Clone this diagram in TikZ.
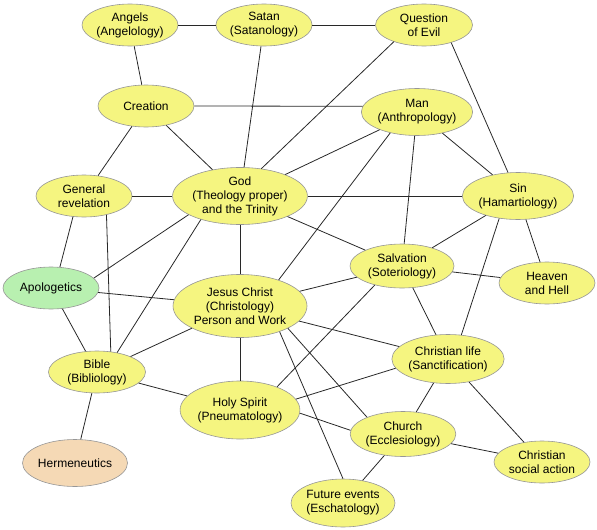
\documentclass[tikz,border=0pt]{standalone}
\usepackage{fontspec}
\setmainfont{Liberation Sans}
\usetikzlibrary{shapes.geometric}
\definecolor{nodey}{RGB}{245,245,128}
\definecolor{nodeg}{RGB}{184,240,176}
\definecolor{nodep}{RGB}{245,217,181}
\definecolor{edgec}{RGB}{40,40,40}
\definecolor{bord}{RGB}{150,150,150}
\tikzset{
  topic/.style={ellipse, draw=bord, line width=0.6pt, fill=nodey, inner sep=0pt,
    align=center, font=\fontsize{12}{14}\selectfont},
  sm/.style={minimum width=96pt, minimum height=42pt},
  md/.style={minimum width=104pt, minimum height=47pt},
  lg/.style={minimum width=118pt, minimum height=58pt},
  link/.style={draw=edgec, line width=0.8pt}
}
\begin{document}
\begin{tikzpicture}[x=1pt,y=-1pt]
\useasboundingbox (0,0) rectangle (597,530);
\node[topic,sm] (angels) at (130,25) {Angels\\(Angelology)};
\node[topic,sm] (satan) at (264,25) {Satan\\(Satanology)};
\node[topic,sm,minimum width=97pt] (evil) at (424,25) {Question\\of Evil};
\node[topic,sm] (creation) at (146,106) {Creation};
\node[topic,md] (man) at (417,112) {Man\\(Anthropology)};
\node[topic,sm] (genrev) at (84,196) {General\\revelation};
\node[topic,lg,minimum height=57pt] (god) at (240,196) {God\\(Theology proper)\\and the Trinity};
\node[topic,md] (sin) at (518,196) {Sin\\(Hamartiology)};
\node[topic,sm,fill=nodeg] (apol) at (51,288) {Apologetics};
\node[topic,minimum width=134pt,minimum height=63pt] (jesus) at (240,306) {Jesus Christ\\(Christology)\\Person and Work};
\node[topic,md,minimum height=44pt] (salv) at (402,266) {Salvation\\(Soteriology)};
\node[topic,sm] (heaven) at (547,283) {Heaven\\and Hell};
\node[topic,sm,minimum width=97pt] (bible) at (97,372) {Bible\\(Bibliology)};
\node[topic,lg] (spirit) at (240,410) {Holy Spirit\\(Pneumatology)};
\node[topic,md,minimum height=49pt] (life) at (448,359) {Christian life\\(Sanctification)};
\node[topic,md,minimum width=105pt,fill=nodep] (herm) at (75,463) {Hermeneutics};
\node[topic,md,minimum width=103pt,minimum height=45pt] (church) at (403,434) {Church\\(Ecclesiology)};
\node[topic,sm] (social) at (542,462) {Christian\\social action};
\node[topic,md,minimum height=48pt] (future) at (343,503) {Future events\\(Eschatology)};
\begin{scope}[on background layer/.style={}]
\foreach \a/\b in {angels/satan, satan/evil, angels/creation, satan/god,
  creation/genrev, creation/god, man/god, man/salv, man/sin,
  genrev/god, god/sin, god/salv, god/jesus,
  sin/salv, sin/heaven, salv/heaven, salv/jesus, salv/life,
  apol/jesus, apol/bible, jesus/bible, jesus/spirit, jesus/life,
  bible/herm, bible/spirit, life/church, life/social,
  church/future, church/social}
  \draw[link] (\a) -- (\b);
\draw[link] (creation.east) -- (man.174);
\draw[link] (evil.209) -- (god.52);
\draw[link] (evil.-33) -- (sin.113);
\draw[link] (man.218) -- (jesus.34);
\draw[link] (genrev.-40) -- (bible.56);
\draw[link] (genrev.-118) -- (apol.67);
\draw[link] (god.200) -- (apol.13);
\draw[link] (god.211) -- (bible.44);
\draw[link] (sin.230) -- (life.61);
\draw[link] (jesus.-33) -- (future.90);
\draw[link] (jesus.-25) -- (church.155);
\draw[link] (spirit.32) -- (salv.215);
\draw[link] (spirit.11) -- (life.190);
\draw[link] (spirit.-3) -- (church.176);
\end{scope}
\end{tikzpicture}
\end{document}
